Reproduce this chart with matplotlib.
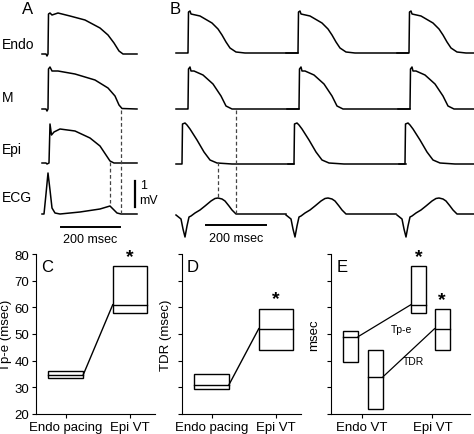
import matplotlib
matplotlib.use("Agg")
import matplotlib.pyplot as plt
import numpy as np

plt.rcParams['font.family'] = ['Liberation Sans', 'DejaVu Sans']

# ---------------- Trace data (time in px-samples, amplitude in px units) ----------------
# Panel A (single beat)
endoA_t = [42, 46, 47, 48, 48.5, 50, 52, 58, 70, 85, 100, 108, 114, 119, 123, 137]
endoA_v = [0, 0, -2, 0, 40, 41, 39, 41, 38, 34, 26, 19, 11, 3, 0, 0]
mA_t = [42, 46, 47, 48, 48.5, 50, 52, 58, 75, 95, 108, 115, 119, 122, 137]
mA_v = [0, 0, -2, 0, 40, 42, 38, 38, 35, 29, 21, 13, 4, 0.5, 0]
epiA_t = [42, 46, 47, 49, 50, 51.5, 54, 60, 75, 90, 100, 106, 110, 114, 137]
epiA_v = [0, 0, -1, 0, 39, 28, 31, 34, 32, 25, 17, 8, 2, 0, 0]
ecgA_t = [42, 44, 46, 48, 50, 52, 55, 60, 80, 100, 110, 113, 117, 121, 137]
ecgA_v = [0, 0, 20, 41, 24, 6, 1, 0, 2, 5, 8, 5, 1, 0, 0]

# Panel B (beat template + onsets)
endoB_t = [-12, -1, 0, 0.5, 2, 3, 12, 24, 30, 34, 38, 42, 48, 57, 110]
endoB_v = [0, 0, 0, 41, 42, 39, 37, 30, 24, 18, 11, 5, 1, 0, 0]
endoB_on = [188, 298, 409]
mB_t = [-12, -1, 0, 0.5, 2, 3, 6, 15, 25, 29, 33, 38, 44, 111]
mB_v = [0, 0, 0, 40, 42, 38, 38, 34, 25, 19, 13, 3, 0, 0]
mB_on = [188, 299, 410]
epiB_t = [-6, 0, 0.5, 3, 5, 8, 15, 22, 28, 35, 50, 112]
epiB_v = [0, 0, 40, 41, 39, 35, 24, 12, 4, 1, 0, 0]
epiB_on = [182, 294, 405]
ecgB_t = [-9, -4, -2, 0, 2, 4, 6, 10, 15, 20, 26, 30, 33, 37, 40, 44, 47, 51, 101]
ecgB_v = [-1, -5, -15, -23, -12, -3, -2, 1, 4, 8, 13, 15.5, 16, 15, 13, 8, 4, 0, 0]
ecgB_on = [185, 295, 406]

row_base = {'Endo': 55, 'M': 110, 'Epi': 164, 'ECG': 215}

# ---------------- Summary data ----------------
C_cats = ['Endo pacing', 'Epi VT']
C_low = [33.5, 58]; C_high = [36, 75.5]; C_med = [34.5, 61]
D_cats = ['Endo pacing', 'Epi VT']
D_low = [29.5, 44]; D_high = [35, 59.5]; D_med = [31, 52]
E_cats = ['Endo VT', 'Epi VT']
E_tpe_low = [39.5, 58]; E_tpe_high = [51, 75.5]; E_tpe_med = [49, 61]
E_tdr_low = [22, 44]; E_tdr_high = [44, 59.5]; E_tdr_med = [34, 52]

fig = plt.figure(figsize=(4.74, 4.35), dpi=100)

# ---------------- Top traces in a pixel-scaled axes ----------------
top = fig.add_axes([0, 0, 1, 1])
top.set_xlim(0, 474); top.set_ylim(435, 0); top.axis('off')
lw = 1.1
def tr(t, v, base, on=0):
    top.plot(np.array(t) + on, base - np.array(v), color='black', lw=lw)
tr(endoA_t, endoA_v, row_base['Endo'])
tr(mA_t, mA_v, row_base['M'])
tr(epiA_t, epiA_v, row_base['Epi'])
tr(ecgA_t, ecgA_v, row_base['ECG'])
for on in endoB_on: tr(endoB_t, endoB_v, row_base['Endo'] - 1, on)
for on in mB_on: tr(mB_t, mB_v, row_base['M'], on)
for on in epiB_on: tr(epiB_t, epiB_v, row_base['Epi'] + 1, on)
for on in ecgB_on: tr(ecgB_t, ecgB_v, row_base['ECG'], on)

dash = dict(color='#444444', lw=0.9, ls=(0, (3, 2)))
top.plot([110, 110], [163, 204], **dash)
top.plot([121, 121], [111, 215], **dash)
top.plot([218, 218], [163, 199], **dash)
top.plot([236, 236], [111, 214], **dash)

top.plot([61, 120], [228, 228], color='black', lw=1.4)
top.text(90, 240, '200 msec', ha='center', va='center', fontsize=9)
top.plot([206, 266], [226, 226], color='black', lw=1.4)
top.text(236, 239, '200 msec', ha='center', va='center', fontsize=9)
top.plot([135, 135], [182, 208], color='black', lw=1.6)
top.text(140, 186, '1', ha='left', va='center', fontsize=9)
top.text(139, 201, 'mV', ha='left', va='center', fontsize=9)
for name, y in [('Endo', 45), ('M', 98), ('Epi', 150), ('ECG', 198)]:
    top.text(2, y, name, ha='left', va='center', fontsize=10)
top.text(28, 9, 'A', ha='center', va='center', fontsize=12)
top.text(175, 9, 'B', ha='center', va='center', fontsize=12)

# ---------------- Bottom box panels ----------------
def style(ax, cats, xs):
    for s in ['top', 'right']:
        ax.spines[s].set_visible(False)
    ax.set_ylim(20, 80)
    ax.set_yticks(np.arange(20, 81, 10))
    ax.set_xticks(xs); ax.set_xticklabels(cats, fontsize=9.5)
    ax.tick_params(length=3, labelsize=9.5, pad=2)

def box(ax, x, w, lo, hi, med):
    ax.add_patch(plt.Rectangle((x - w / 2, lo), w, hi - lo, fill=False, ec='black', lw=1))
    ax.plot([x - w / 2, x + w / 2], [med, med], color='black', lw=1)

H = 160 / 435; B0 = 20 / 435
axC = fig.add_axes([36 / 474, B0, 119 / 474, H])
axD = fig.add_axes([182 / 474, B0, 119 / 474, H])
axE = fig.add_axes([331 / 474, B0, 139 / 474, H])

for ax, cats, lo, hi, med, yl in [(axC, C_cats, C_low, C_high, C_med, 'Tp-e (msec)'),
                                   (axD, D_cats, D_low, D_high, D_med, 'TDR (msec)')]:
    ax.set_xlim(0, 1)
    xs = [0.25, 0.79]; w = 0.29
    style(ax, cats, xs)
    for i in range(2):
        box(ax, xs[i], w, lo[i], hi[i], med[i])
    ax.plot([xs[0] + w / 2, xs[1] - w / 2], [med[0], med[1]], color='black', lw=1)
    ax.text(xs[1], hi[1] + 0.5, '*', ha='center', va='bottom', fontsize=14, fontweight='bold')
    ax.set_ylabel(yl, fontsize=9.5, labelpad=2)
axD.set_yticklabels([])

axE.set_xlim(0, 1)
style(axE, E_cats, [0.22, 0.73])
axE.set_yticklabels([])
axE.set_ylabel('msec', fontsize=9.5, labelpad=3)
w = 0.11
xt = [0.14, 0.63]; xd = [0.32, 0.8]
for i in range(2):
    box(axE, xt[i], w, E_tpe_low[i], E_tpe_high[i], E_tpe_med[i])
    box(axE, xd[i], w, E_tdr_low[i], E_tdr_high[i], E_tdr_med[i])
    axE.text(xt[i], E_tpe_high[i] + 0.3, '*' if i else '', ha='center', va='bottom', fontsize=14, fontweight='bold')
    axE.text(xd[i], E_tdr_high[i] + 0.3, '*' if i else '', ha='center', va='bottom', fontsize=14, fontweight='bold')
axE.plot([xt[0] + w / 2, xt[1] - w / 2], [E_tpe_med[0], E_tpe_med[1]], color='black', lw=0.9)
axE.plot([xd[0] + w / 2, xd[1] - w / 2], [E_tdr_med[0], E_tdr_med[1]], color='black', lw=0.9)
axE.text(0.43, 52, 'Tp-e', fontsize=7.5, va='center')
axE.text(0.52, 40, 'TDR', fontsize=7.5, va='center')

for ax, l in [(axC, 'C'), (axD, 'D'), (axE, 'E')]:
    ax.text(0.04, 0.97, l, transform=ax.transAxes, fontsize=12, va='top')

fig.savefig('out.png', dpi=100)
